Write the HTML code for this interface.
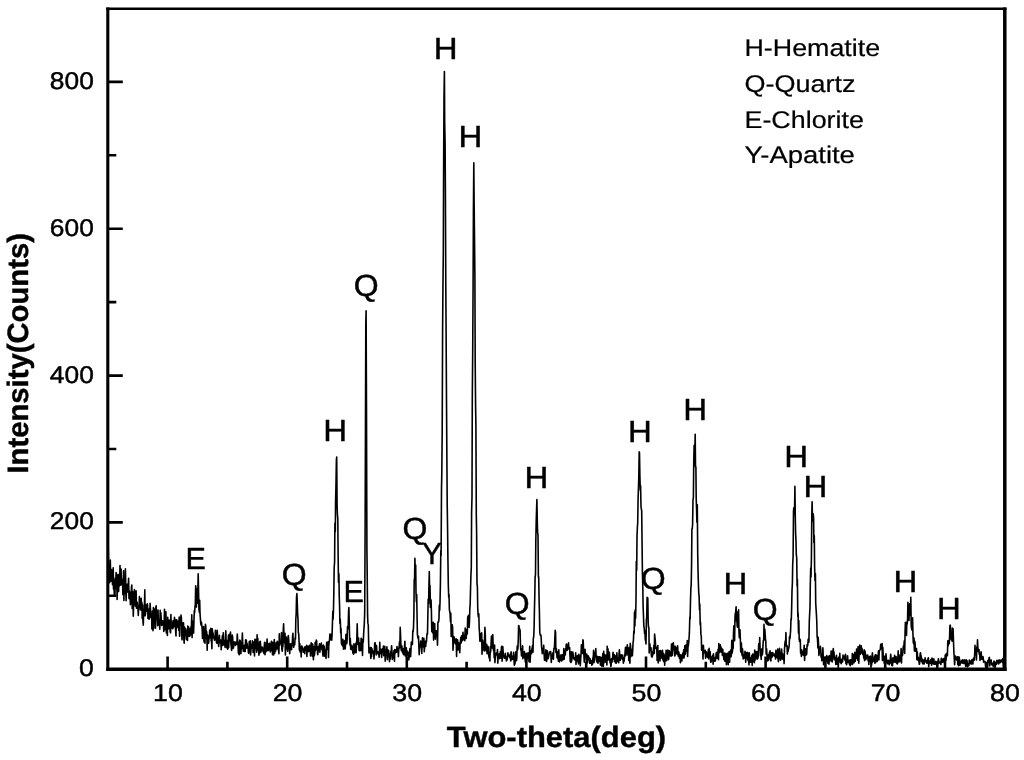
<!DOCTYPE html>
<html lang="en"><head><meta charset="utf-8"><title>XRD pattern</title>
<style>
html,body{margin:0;padding:0;background:#fff;}
body{width:1024px;height:760px;overflow:hidden;}
svg{display:block;}
text{font-family:"Liberation Sans",Arial,Helvetica,sans-serif;fill:#000;text-rendering:geometricPrecision;}
.tk{font-size:24.2px;stroke:#000;stroke-width:0.45px;}
.pk{font-size:30.4px;stroke:#000;stroke-width:0.45px;}
.lg{font-size:24.1px;stroke:#000;stroke-width:0.2px;}
.ti{font-size:29.3px;font-weight:bold;stroke:#000;stroke-width:0.4px;}
</style></head><body>
<svg width="1024" height="760" viewBox="0 0 1024 760">
<rect x="0" y="0" width="1024" height="760" fill="#fff"/>
<polyline fill="none" stroke="#000" stroke-width="1.6" stroke-linejoin="round" points="107.8,523.1 108.2,542.8 108.5,562.2 108.9,575.8 109.2,574.8 109.6,582.6 110.0,572.7 110.3,560.0 110.7,579.5 111.0,581.1 111.4,569.6 111.7,571.1 112.1,573.8 112.5,584.6 112.8,575.3 113.2,567.8 113.5,589.1 113.9,579.9 114.3,594.9 114.6,588.6 115.0,594.4 115.3,577.8 115.7,588.5 116.1,572.6 116.4,573.8 116.8,577.4 117.1,599.4 117.5,581.2 117.8,576.1 118.2,574.5 118.6,591.5 118.9,580.7 119.3,586.0 119.6,584.5 120.0,565.5 120.4,585.2 120.7,577.8 121.1,569.0 121.4,584.8 121.8,580.8 122.2,579.5 122.5,580.9 122.9,594.7 123.2,582.6 123.6,570.9 123.9,600.4 124.3,577.7 124.7,585.7 125.0,593.7 125.4,568.9 125.7,581.4 126.1,600.7 126.5,589.0 126.8,584.6 127.2,592.2 127.5,584.3 127.9,591.8 128.3,585.2 128.6,578.3 129.0,598.6 129.3,590.7 129.7,597.3 130.0,592.1 130.4,604.7 130.8,599.5 131.1,596.4 131.5,586.8 131.8,585.1 132.2,608.4 132.6,604.1 132.9,591.7 133.3,616.3 133.6,603.3 134.0,600.7 134.4,589.5 134.7,595.3 135.1,605.0 135.4,606.1 135.8,605.7 136.1,590.9 136.5,608.3 136.9,607.6 137.2,602.3 137.6,606.7 137.9,607.5 138.3,615.5 138.7,606.2 139.0,610.0 139.4,596.5 139.7,601.0 140.1,606.9 140.5,601.2 140.8,609.9 141.2,598.3 141.5,607.3 141.9,602.5 142.2,618.4 142.6,604.8 143.0,622.0 143.3,625.1 143.7,610.7 144.0,615.8 144.4,607.1 144.8,589.9 145.1,615.7 145.5,614.1 145.8,607.3 146.2,605.1 146.6,610.8 146.9,611.2 147.3,603.8 147.6,605.5 148.0,618.4 148.3,610.7 148.7,610.0 149.1,619.2 149.4,608.6 149.8,618.0 150.1,603.4 150.5,610.0 150.9,611.2 151.2,617.0 151.6,613.5 151.9,629.0 152.3,622.3 152.7,610.7 153.0,630.8 153.4,607.5 153.7,628.4 154.1,608.9 154.4,621.9 154.8,609.4 155.2,614.8 155.5,628.2 155.9,606.8 156.2,605.7 156.6,617.7 157.0,619.6 157.3,619.1 157.7,625.6 158.0,610.1 158.4,622.8 158.7,619.3 159.1,625.2 159.5,624.1 159.8,629.2 160.2,610.3 160.5,621.1 160.9,612.8 161.3,620.1 161.6,625.5 162.0,622.9 162.3,624.8 162.7,620.7 163.1,623.7 163.4,623.3 163.8,631.4 164.1,627.3 164.5,609.3 164.8,626.6 165.2,629.6 165.6,619.4 165.9,611.7 166.3,632.9 166.6,623.9 167.0,627.1 167.4,635.5 167.7,617.4 168.1,623.1 168.4,622.6 168.8,628.7 169.2,620.1 169.5,627.5 169.9,624.8 170.2,631.9 170.6,632.8 170.9,614.6 171.3,628.0 171.7,622.4 172.0,624.9 172.4,627.9 172.7,628.6 173.1,620.6 173.5,627.4 173.8,626.5 174.2,625.4 174.5,617.4 174.9,621.1 175.3,623.3 175.6,630.1 176.0,636.0 176.3,619.8 176.7,619.9 177.0,627.7 177.4,623.1 177.8,621.6 178.1,621.4 178.5,620.9 178.8,630.5 179.2,617.0 179.6,636.2 179.9,621.7 180.3,624.4 180.6,621.9 181.0,615.1 181.4,617.9 181.7,636.0 182.1,639.8 182.4,622.8 182.8,635.4 183.1,628.6 183.5,622.9 183.9,639.9 184.2,643.2 184.6,627.1 184.9,628.7 185.3,630.7 185.7,628.9 186.0,635.0 186.4,639.5 186.7,630.5 187.1,636.0 187.5,640.5 187.8,626.1 188.2,629.9 188.5,626.8 188.9,636.2 189.2,634.0 189.6,636.3 190.0,635.5 190.3,628.1 190.7,634.6 191.0,626.8 191.4,626.6 191.8,614.7 192.1,637.6 192.5,621.1 192.8,626.7 193.2,624.7 193.6,633.1 193.9,623.3 194.3,610.6 194.6,612.9 195.0,606.7 195.3,604.6 195.7,585.7 196.1,590.8 196.4,607.1 196.8,588.7 197.1,599.7 197.5,603.3 197.9,587.8 198.2,573.8 198.6,591.7 198.9,608.7 199.3,612.2 199.7,600.3 200.0,613.4 200.4,618.6 200.7,622.9 201.1,625.1 201.4,622.1 201.8,625.6 202.2,629.2 202.5,638.5 202.9,629.1 203.2,637.5 203.6,626.5 204.0,642.0 204.3,635.2 204.7,634.7 205.0,643.2 205.4,624.4 205.8,626.3 206.1,638.5 206.5,631.0 206.8,633.6 207.2,650.3 207.5,634.8 207.9,636.8 208.3,636.1 208.6,643.3 209.0,638.5 209.3,638.1 209.7,630.0 210.1,635.3 210.4,637.5 210.8,628.4 211.1,641.0 211.5,640.2 211.9,648.8 212.2,628.7 212.6,632.4 212.9,632.8 213.3,634.4 213.6,637.9 214.0,637.4 214.4,640.2 214.7,640.1 215.1,638.6 215.4,630.2 215.8,635.9 216.2,639.6 216.5,642.8 216.9,643.2 217.2,630.3 217.6,636.8 218.0,639.4 218.3,641.9 218.7,646.4 219.0,640.5 219.4,635.2 219.7,642.6 220.1,641.7 220.5,641.8 220.8,640.0 221.2,649.8 221.5,642.2 221.9,645.8 222.3,636.0 222.6,645.5 223.0,638.0 223.3,632.7 223.7,643.2 224.1,644.9 224.4,640.6 224.8,641.7 225.1,647.4 225.5,639.3 225.8,630.7 226.2,643.5 226.6,643.2 226.9,648.0 227.3,640.5 227.6,649.2 228.0,648.5 228.4,635.3 228.7,647.5 229.1,636.6 229.4,634.2 229.8,641.3 230.2,639.7 230.5,632.1 230.9,644.0 231.2,646.2 231.6,650.4 231.9,642.9 232.3,635.1 232.7,638.0 233.0,648.4 233.4,648.0 233.7,646.2 234.1,641.9 234.5,644.7 234.8,642.5 235.2,642.1 235.5,645.4 235.9,644.0 236.3,642.8 236.6,644.4 237.0,641.3 237.3,634.0 237.7,641.0 238.0,643.9 238.4,653.3 238.8,642.3 239.1,654.8 239.5,652.0 239.8,640.0 240.2,640.9 240.6,645.5 240.9,653.8 241.3,646.8 241.6,648.5 242.0,641.6 242.4,633.1 242.7,643.9 243.1,649.2 243.4,651.3 243.8,645.6 244.1,646.2 244.5,651.4 244.9,644.8 245.2,651.5 245.6,639.7 245.9,640.0 246.3,640.0 246.7,648.1 247.0,643.0 247.4,646.4 247.7,647.8 248.1,647.5 248.4,652.5 248.8,653.3 249.2,641.7 249.5,646.9 249.9,644.8 250.2,640.8 250.6,654.9 251.0,650.0 251.3,645.1 251.7,644.0 252.0,648.0 252.4,640.8 252.8,645.1 253.1,652.4 253.5,651.0 253.8,642.1 254.2,643.9 254.5,656.0 254.9,639.4 255.3,643.3 255.6,639.5 256.0,648.4 256.3,647.9 256.7,652.2 257.1,634.7 257.4,647.4 257.8,638.4 258.1,649.9 258.5,645.7 258.9,655.1 259.2,648.6 259.6,641.7 259.9,653.0 260.3,641.3 260.6,645.0 261.0,652.0 261.4,649.3 261.7,649.1 262.1,647.1 262.4,649.5 262.8,651.0 263.2,648.4 263.5,652.0 263.9,653.4 264.2,647.1 264.6,642.4 265.0,654.6 265.3,646.8 265.7,650.1 266.0,651.7 266.4,642.4 266.7,649.3 267.1,639.1 267.5,650.6 267.8,644.7 268.2,647.7 268.5,650.4 268.9,643.5 269.3,647.2 269.6,643.3 270.0,646.6 270.3,651.9 270.7,646.8 271.1,645.9 271.4,641.2 271.8,650.7 272.1,646.1 272.5,654.8 272.8,642.4 273.2,651.3 273.6,655.0 273.9,645.8 274.3,639.6 274.6,653.3 275.0,650.9 275.4,649.0 275.7,650.9 276.1,642.9 276.4,649.0 276.8,648.5 277.2,641.4 277.5,648.4 277.9,642.0 278.2,649.4 278.6,650.6 278.9,653.8 279.3,633.8 279.7,645.4 280.0,642.3 280.4,643.6 280.7,642.5 281.1,642.9 281.5,632.6 281.8,648.6 282.2,651.1 282.5,647.2 282.9,646.7 283.3,629.4 283.6,623.7 284.0,635.6 284.3,642.6 284.7,640.6 285.0,633.3 285.4,655.0 285.8,639.6 286.1,648.6 286.5,637.1 286.8,648.8 287.2,644.5 287.6,651.3 287.9,648.5 288.3,635.6 288.6,638.8 289.0,645.5 289.4,648.1 289.7,653.8 290.1,645.7 290.4,643.8 290.8,644.1 291.1,644.2 291.5,649.8 291.9,644.1 292.2,643.9 292.6,636.7 292.9,633.4 293.3,644.1 293.7,647.3 294.0,643.0 294.4,645.3 294.7,644.6 295.1,637.8 295.5,639.0 295.8,619.5 296.2,613.2 296.5,597.7 296.9,593.6 297.2,600.8 297.6,612.9 298.0,619.4 298.3,632.0 298.7,634.2 299.0,640.1 299.4,650.1 299.8,643.6 300.1,651.9 300.5,648.6 300.8,647.4 301.2,656.9 301.6,646.0 301.9,646.0 302.3,647.7 302.6,649.3 303.0,649.1 303.3,652.3 303.7,648.9 304.1,650.4 304.4,647.3 304.8,653.8 305.1,646.7 305.5,647.3 305.9,648.7 306.2,650.2 306.6,645.4 306.9,656.4 307.3,646.0 307.7,647.1 308.0,646.9 308.4,646.5 308.7,651.6 309.1,649.7 309.4,645.3 309.8,646.4 310.2,647.5 310.5,655.9 310.9,645.9 311.2,642.8 311.6,643.6 312.0,647.4 312.3,656.2 312.7,644.0 313.0,649.3 313.4,659.8 313.8,646.8 314.1,655.9 314.5,654.9 314.8,651.7 315.2,642.4 315.5,650.4 315.9,647.3 316.3,640.1 316.6,640.9 317.0,649.1 317.3,649.8 317.7,654.7 318.1,652.0 318.4,646.5 318.8,646.6 319.1,648.0 319.5,643.7 319.9,652.2 320.2,648.7 320.6,644.8 320.9,645.5 321.3,643.1 321.6,646.3 322.0,649.8 322.4,646.4 322.7,653.1 323.1,656.1 323.4,645.1 323.8,648.2 324.2,646.3 324.5,656.1 324.9,649.4 325.2,650.4 325.6,651.6 326.0,658.5 326.3,648.7 326.7,642.2 327.0,644.6 327.4,649.4 327.7,646.1 328.1,641.8 328.5,657.4 328.8,645.6 329.2,641.5 329.5,640.2 329.9,634.0 330.3,636.2 330.6,639.8 331.0,638.6 331.3,634.2 331.7,640.2 332.1,634.4 332.4,624.4 332.8,611.3 333.1,619.3 333.5,608.9 333.8,594.3 334.2,567.0 334.6,562.3 334.9,523.2 335.3,531.6 335.6,500.4 336.0,483.7 336.4,459.8 336.7,457.0 337.1,505.7 337.4,514.4 337.8,518.9 338.1,553.2 338.5,582.5 338.9,573.7 339.2,594.5 339.6,606.8 339.9,623.5 340.3,619.4 340.7,633.1 341.0,628.2 341.4,643.1 341.7,644.5 342.1,639.8 342.5,646.0 342.8,639.2 343.2,642.2 343.5,649.2 343.9,644.4 344.2,647.0 344.6,640.7 345.0,649.0 345.3,648.1 345.7,639.6 346.0,634.2 346.4,634.8 346.8,643.6 347.1,639.9 347.5,626.5 347.8,629.0 348.2,626.2 348.6,610.5 348.9,607.5 349.3,624.7 349.6,639.3 350.0,645.1 350.3,638.3 350.7,649.2 351.1,647.6 351.4,646.7 351.8,645.3 352.1,650.2 352.5,646.4 352.9,653.3 353.2,650.9 353.6,654.1 353.9,643.9 354.3,649.4 354.7,652.8 355.0,650.7 355.4,649.5 355.7,643.4 356.1,652.8 356.4,646.6 356.8,640.0 357.2,623.7 357.5,634.8 357.9,644.5 358.2,643.0 358.6,638.0 359.0,649.9 359.3,650.7 359.7,643.0 360.0,646.3 360.4,645.2 360.8,650.7 361.1,638.3 361.5,638.7 361.8,643.8 362.2,642.2 362.5,655.4 362.9,639.5 363.3,641.9 363.6,634.9 364.0,627.8 364.3,624.2 364.7,611.9 365.1,533.8 365.4,446.4 365.8,323.5 366.1,310.9 366.5,410.1 366.9,547.7 367.2,574.6 367.6,615.9 367.9,623.4 368.3,624.9 368.6,640.5 369.0,653.0 369.4,649.6 369.7,652.4 370.1,649.8 370.4,647.6 370.8,658.4 371.2,647.5 371.5,656.7 371.9,648.5 372.2,650.7 372.6,651.9 373.0,651.0 373.3,653.4 373.7,653.9 374.0,658.9 374.4,651.5 374.7,643.1 375.1,642.7 375.5,645.7 375.8,648.6 376.2,654.9 376.5,645.5 376.9,652.2 377.3,652.4 377.6,653.4 378.0,651.8 378.3,654.2 378.7,652.7 379.1,657.1 379.4,654.0 379.8,642.4 380.1,652.8 380.5,653.5 380.8,650.2 381.2,649.5 381.6,657.5 381.9,653.5 382.3,648.7 382.6,651.5 383.0,652.2 383.4,646.0 383.7,655.7 384.1,652.4 384.4,655.0 384.8,646.3 385.2,661.3 385.5,655.7 385.9,655.1 386.2,649.9 386.6,650.2 386.9,646.8 387.3,659.6 387.7,649.6 388.0,654.1 388.4,655.7 388.7,650.5 389.1,656.8 389.5,661.8 389.8,654.4 390.2,659.3 390.5,655.6 390.9,651.2 391.3,651.4 391.6,645.9 392.0,653.6 392.3,659.4 392.7,656.0 393.0,656.7 393.4,658.0 393.8,650.8 394.1,655.4 394.5,661.2 394.8,649.5 395.2,653.0 395.6,650.9 395.9,651.9 396.3,649.5 396.6,652.1 397.0,646.6 397.4,650.0 397.7,649.8 398.1,649.1 398.4,656.8 398.8,649.1 399.1,647.2 399.5,641.8 399.9,647.6 400.2,627.4 400.6,636.0 400.9,645.4 401.3,650.7 401.7,645.6 402.0,647.3 402.4,652.3 402.7,649.6 403.1,653.8 403.5,648.7 403.8,654.7 404.2,651.7 404.5,647.1 404.9,641.2 405.2,656.1 405.6,653.6 406.0,655.2 406.3,647.8 406.7,656.5 407.0,653.4 407.4,651.2 407.8,655.4 408.1,655.1 408.5,652.7 408.8,660.0 409.2,656.7 409.6,651.5 409.9,648.5 410.3,649.6 410.6,656.8 411.0,649.6 411.3,642.1 411.7,641.8 412.1,643.0 412.4,644.5 412.8,630.7 413.1,631.9 413.5,627.7 413.9,613.9 414.2,580.3 414.6,578.2 414.9,558.3 415.3,573.6 415.7,565.1 416.0,592.7 416.4,601.8 416.7,594.5 417.1,617.7 417.4,634.3 417.8,637.1 418.2,638.5 418.5,636.2 418.9,647.1 419.2,654.7 419.6,647.8 420.0,646.9 420.3,646.8 420.7,641.1 421.0,646.3 421.4,644.0 421.8,653.5 422.1,643.9 422.5,637.8 422.8,644.2 423.2,646.6 423.5,646.9 423.9,638.4 424.3,651.7 424.6,647.1 425.0,643.6 425.3,641.3 425.7,646.5 426.1,641.0 426.4,642.1 426.8,636.5 427.1,633.4 427.5,634.0 427.8,617.4 428.2,599.1 428.6,603.8 428.9,586.8 429.3,571.6 429.6,590.3 430.0,585.3 430.4,607.5 430.7,599.4 431.1,600.5 431.4,610.9 431.8,631.4 432.2,627.7 432.5,632.7 432.9,632.5 433.2,622.2 433.6,640.1 433.9,624.2 434.3,631.9 434.7,623.6 435.0,632.7 435.4,639.1 435.7,633.7 436.1,630.9 436.5,634.8 436.8,631.0 437.2,636.1 437.5,645.1 437.9,622.8 438.3,621.4 438.6,622.0 439.0,618.4 439.3,605.2 439.7,610.1 440.0,602.7 440.4,584.4 440.8,550.7 441.1,555.6 441.5,489.3 441.8,473.8 442.2,432.2 442.6,330.7 442.9,292.1 443.3,253.8 443.6,173.4 444.0,97.4 444.4,71.6 444.7,124.1 445.1,141.8 445.4,191.9 445.8,287.0 446.1,331.7 446.5,399.7 446.9,460.5 447.2,502.9 447.6,530.2 447.9,557.8 448.3,584.2 448.7,597.3 449.0,594.5 449.4,610.3 449.7,611.1 450.1,613.6 450.5,621.7 450.8,613.2 451.2,636.5 451.5,627.8 451.9,636.7 452.2,624.7 452.6,627.2 453.0,650.2 453.3,645.2 453.7,636.6 454.0,636.7 454.4,637.7 454.8,642.9 455.1,640.5 455.5,639.9 455.8,644.3 456.2,638.7 456.6,656.5 456.9,641.3 457.3,650.3 457.6,639.9 458.0,646.2 458.3,649.7 458.7,642.9 459.1,649.6 459.4,649.4 459.8,652.6 460.1,644.0 460.5,640.7 460.9,637.2 461.2,643.0 461.6,635.7 461.9,640.8 462.3,640.7 462.7,636.0 463.0,632.3 463.4,639.8 463.7,638.5 464.1,637.3 464.4,635.1 464.8,640.7 465.2,628.0 465.5,636.5 465.9,630.6 466.2,638.4 466.6,630.2 467.0,629.4 467.3,634.0 467.7,616.8 468.0,626.6 468.4,615.3 468.8,618.6 469.1,627.4 469.5,621.4 469.8,609.2 470.2,603.6 470.5,590.9 470.9,575.7 471.3,567.6 471.6,512.8 472.0,496.5 472.3,397.7 472.7,351.9 473.1,284.3 473.4,213.1 473.8,162.7 474.1,199.1 474.5,236.7 474.9,276.3 475.2,362.0 475.6,406.4 475.9,424.7 476.3,515.1 476.6,531.8 477.0,583.6 477.4,586.9 477.7,607.0 478.1,614.6 478.4,616.9 478.8,613.8 479.2,628.6 479.5,632.0 479.9,641.2 480.2,633.6 480.6,640.3 481.0,635.4 481.3,641.7 481.7,632.9 482.0,654.2 482.4,645.9 482.7,640.3 483.1,647.2 483.5,649.6 483.8,646.3 484.2,651.0 484.5,641.0 484.9,627.4 485.3,634.9 485.6,649.7 486.0,650.7 486.3,650.0 486.7,644.3 487.1,653.6 487.4,653.3 487.8,646.2 488.1,646.5 488.5,652.4 488.8,655.9 489.2,658.0 489.6,654.1 489.9,661.0 490.3,646.7 490.6,652.3 491.0,645.5 491.4,636.2 491.7,637.2 492.1,648.0 492.4,635.6 492.8,634.7 493.2,647.3 493.5,650.8 493.9,648.8 494.2,657.7 494.6,645.0 494.9,662.6 495.3,657.8 495.7,654.5 496.0,654.6 496.4,653.1 496.7,652.8 497.1,655.0 497.5,649.5 497.8,663.2 498.2,654.5 498.5,657.5 498.9,654.1 499.3,653.9 499.6,658.6 500.0,657.6 500.3,651.9 500.7,653.8 501.0,658.0 501.4,647.2 501.8,646.3 502.1,661.3 502.5,654.4 502.8,646.6 503.2,652.7 503.6,655.0 503.9,656.7 504.3,658.1 504.6,656.9 505.0,658.3 505.4,653.3 505.7,657.8 506.1,658.0 506.4,661.0 506.8,656.7 507.1,659.9 507.5,657.3 507.9,652.7 508.2,655.3 508.6,654.8 508.9,655.4 509.3,656.5 509.7,657.2 510.0,657.9 510.4,653.9 510.7,660.9 511.1,651.7 511.5,656.6 511.8,659.6 512.2,658.6 512.5,659.2 512.9,656.0 513.2,659.3 513.6,652.2 514.0,659.5 514.3,665.1 514.7,659.2 515.0,664.0 515.4,656.3 515.8,651.9 516.1,653.2 516.5,660.7 516.8,657.8 517.2,646.0 517.5,650.1 517.9,648.5 518.3,638.6 518.6,625.6 519.0,625.9 519.3,630.0 519.7,628.8 520.1,630.7 520.4,643.3 520.8,650.3 521.1,648.5 521.5,655.9 521.9,653.7 522.2,654.1 522.6,645.7 522.9,658.7 523.3,656.0 523.6,656.2 524.0,653.9 524.4,651.5 524.7,657.6 525.1,658.9 525.4,662.1 525.8,659.2 526.2,653.3 526.5,655.1 526.9,659.3 527.2,656.6 527.6,654.8 528.0,652.7 528.3,656.9 528.7,655.3 529.0,661.6 529.4,658.5 529.7,646.3 530.1,662.3 530.5,653.8 530.8,650.7 531.2,652.6 531.5,653.8 531.9,649.0 532.3,647.1 532.6,645.3 533.0,652.3 533.3,638.3 533.7,637.1 534.1,627.5 534.4,611.6 534.8,595.1 535.1,577.1 535.5,574.6 535.8,541.2 536.2,521.4 536.6,508.9 536.9,499.6 537.3,522.2 537.6,532.3 538.0,535.1 538.4,577.2 538.7,577.0 539.1,599.8 539.4,611.6 539.8,632.9 540.2,634.7 540.5,635.4 540.9,635.1 541.2,638.5 541.6,646.9 541.9,649.3 542.3,653.7 542.7,649.0 543.0,652.8 543.4,649.7 543.7,645.4 544.1,653.6 544.5,660.1 544.8,657.8 545.2,660.5 545.5,659.7 545.9,649.8 546.3,654.4 546.6,661.5 547.0,653.1 547.3,650.9 547.7,657.4 548.0,658.7 548.4,657.5 548.8,655.3 549.1,654.0 549.5,652.0 549.8,652.0 550.2,652.1 550.6,651.5 550.9,654.2 551.3,662.5 551.6,657.2 552.0,655.5 552.4,658.1 552.7,653.0 553.1,657.6 553.4,659.3 553.8,648.5 554.1,649.0 554.5,646.7 554.9,636.9 555.2,630.3 555.6,633.2 555.9,652.6 556.3,648.5 556.7,652.3 557.0,657.7 557.4,654.7 557.7,651.8 558.1,658.6 558.5,661.3 558.8,649.7 559.2,659.0 559.5,662.0 559.9,656.6 560.2,656.0 560.6,660.2 561.0,654.7 561.3,659.4 561.7,661.0 562.0,657.0 562.4,654.8 562.8,659.9 563.1,656.3 563.5,657.6 563.8,648.5 564.2,659.3 564.6,650.7 564.9,655.5 565.3,654.7 565.6,649.8 566.0,647.4 566.3,644.0 566.7,647.0 567.1,650.5 567.4,649.8 567.8,644.7 568.1,645.3 568.5,642.8 568.9,649.0 569.2,647.8 569.6,647.5 569.9,654.4 570.3,661.8 570.7,661.2 571.0,662.5 571.4,651.8 571.7,660.9 572.1,653.6 572.4,656.0 572.8,652.1 573.2,654.7 573.5,658.6 573.9,659.0 574.2,658.0 574.6,657.7 575.0,660.2 575.3,658.5 575.7,652.7 576.0,664.4 576.4,657.5 576.8,661.6 577.1,657.8 577.5,655.5 577.8,658.6 578.2,655.7 578.5,664.0 578.9,654.4 579.3,660.3 579.6,655.8 580.0,657.0 580.3,665.6 580.7,658.7 581.1,653.1 581.4,644.8 581.8,647.8 582.1,645.8 582.5,653.5 582.9,639.8 583.2,640.5 583.6,651.5 583.9,654.9 584.3,662.2 584.6,653.7 585.0,649.4 585.4,655.6 585.7,653.9 586.1,656.6 586.4,662.0 586.8,654.0 587.2,663.0 587.5,659.4 587.9,657.8 588.2,655.7 588.6,657.3 589.0,657.5 589.3,661.4 589.7,663.3 590.0,658.6 590.4,661.3 590.7,663.3 591.1,663.2 591.5,660.5 591.8,665.2 592.2,663.4 592.5,664.3 592.9,657.8 593.3,656.7 593.6,650.4 594.0,662.8 594.3,659.2 594.7,652.5 595.1,656.4 595.4,656.7 595.8,648.6 596.1,657.1 596.5,660.8 596.8,661.9 597.2,656.3 597.6,656.9 597.9,663.2 598.3,662.0 598.6,656.9 599.0,656.9 599.4,661.1 599.7,656.8 600.1,657.0 600.4,665.1 600.8,660.1 601.2,657.6 601.5,661.0 601.9,666.3 602.2,660.0 602.6,656.5 602.9,653.6 603.3,666.5 603.7,651.2 604.0,662.9 604.4,655.7 604.7,654.6 605.1,655.4 605.5,658.0 605.8,662.2 606.2,655.2 606.5,659.5 606.9,665.0 607.2,646.4 607.6,652.6 608.0,648.7 608.3,660.0 608.7,651.8 609.0,652.1 609.4,652.9 609.8,658.7 610.1,662.9 610.5,659.5 610.8,666.5 611.2,664.8 611.6,658.6 611.9,662.3 612.3,659.4 612.6,659.2 613.0,652.2 613.3,654.3 613.7,658.9 614.1,654.5 614.4,661.4 614.8,659.8 615.1,655.5 615.5,662.9 615.9,659.5 616.2,663.1 616.6,658.1 616.9,652.7 617.3,661.0 617.7,657.5 618.0,661.5 618.4,662.3 618.7,662.6 619.1,652.9 619.4,649.8 619.8,656.3 620.2,660.5 620.5,655.3 620.9,659.0 621.2,654.8 621.6,656.5 622.0,656.4 622.3,655.1 622.7,659.3 623.0,658.5 623.4,663.2 623.8,657.9 624.1,661.1 624.5,654.8 624.8,656.9 625.2,650.5 625.5,647.2 625.9,655.3 626.3,652.5 626.6,654.0 627.0,647.5 627.3,644.8 627.7,649.7 628.1,655.4 628.4,648.2 628.8,660.5 629.1,647.9 629.5,656.6 629.9,663.3 630.2,643.3 630.6,645.8 630.9,656.7 631.3,650.7 631.6,651.7 632.0,649.2 632.4,655.6 632.7,650.2 633.1,642.1 633.4,640.6 633.8,631.1 634.2,633.2 634.5,612.1 634.9,626.0 635.2,609.8 635.6,618.3 636.0,601.1 636.3,561.3 636.7,570.3 637.0,536.7 637.4,526.8 637.7,523.2 638.1,498.1 638.5,487.0 638.8,476.6 639.2,451.9 639.5,452.9 639.9,476.3 640.3,490.3 640.6,485.8 641.0,506.6 641.3,508.7 641.7,511.0 642.1,546.2 642.4,571.8 642.8,587.3 643.1,605.9 643.5,616.4 643.8,625.6 644.2,628.0 644.6,633.8 644.9,630.6 645.3,640.3 645.6,639.8 646.0,643.9 646.4,619.6 646.7,617.7 647.1,597.3 647.4,599.9 647.8,598.0 648.2,622.3 648.5,627.2 648.9,627.9 649.2,653.0 649.6,644.4 649.9,643.9 650.3,650.5 650.7,649.6 651.0,647.7 651.4,656.3 651.7,651.7 652.1,657.1 652.5,655.8 652.8,654.8 653.2,651.6 653.5,648.7 653.9,645.4 654.3,653.5 654.6,634.0 655.0,637.9 655.3,640.8 655.7,648.0 656.0,648.4 656.4,647.2 656.8,649.7 657.1,660.5 657.5,651.0 657.8,645.6 658.2,662.9 658.6,651.7 658.9,654.4 659.3,656.5 659.6,650.7 660.0,660.9 660.4,655.6 660.7,650.5 661.1,657.1 661.4,658.0 661.8,655.9 662.1,658.2 662.5,650.3 662.9,660.0 663.2,653.0 663.6,661.4 663.9,653.8 664.3,656.9 664.7,665.2 665.0,656.5 665.4,660.6 665.7,658.2 666.1,650.3 666.5,660.8 666.8,660.5 667.2,650.6 667.5,655.8 667.9,650.1 668.2,654.9 668.6,659.6 669.0,656.3 669.3,650.9 669.7,651.9 670.0,655.4 670.4,654.8 670.8,654.9 671.1,656.2 671.5,644.0 671.8,651.4 672.2,655.5 672.6,651.0 672.9,643.5 673.3,642.8 673.6,646.3 674.0,649.2 674.3,646.2 674.7,656.0 675.1,655.3 675.4,646.3 675.8,653.6 676.1,650.8 676.5,648.0 676.9,651.1 677.2,654.3 677.6,645.7 677.9,652.0 678.3,656.3 678.7,651.8 679.0,653.1 679.4,658.3 679.7,654.4 680.1,655.3 680.4,662.8 680.8,655.1 681.2,655.4 681.5,655.9 681.9,661.0 682.2,655.2 682.6,653.6 683.0,652.8 683.3,658.0 683.7,649.9 684.0,657.9 684.4,653.1 684.8,645.7 685.1,654.5 685.5,653.2 685.8,645.0 686.2,651.3 686.5,650.1 686.9,646.4 687.3,640.6 687.6,656.5 688.0,647.0 688.3,645.6 688.7,643.0 689.1,637.5 689.4,632.4 689.8,617.3 690.1,619.0 690.5,601.0 690.9,587.0 691.2,585.9 691.6,562.6 691.9,529.0 692.3,528.3 692.6,524.3 693.0,500.1 693.4,497.3 693.7,465.8 694.1,445.5 694.4,465.5 694.8,453.3 695.2,434.3 695.5,467.0 695.9,466.8 696.2,498.6 696.6,510.5 696.9,522.3 697.3,504.8 697.7,553.2 698.0,569.7 698.4,583.8 698.7,592.3 699.1,596.1 699.5,610.0 699.8,604.0 700.2,624.8 700.5,622.2 700.9,634.4 701.3,636.0 701.6,650.3 702.0,645.2 702.3,646.5 702.7,648.8 703.0,659.1 703.4,645.3 703.8,652.0 704.1,652.8 704.5,652.5 704.8,652.8 705.2,650.4 705.6,658.1 705.9,656.9 706.3,651.9 706.6,652.7 707.0,655.2 707.4,656.2 707.7,657.5 708.1,654.4 708.4,649.5 708.8,658.9 709.1,648.4 709.5,651.4 709.9,656.7 710.2,651.9 710.6,661.0 710.9,662.2 711.3,660.5 711.7,657.0 712.0,656.7 712.4,657.6 712.7,655.2 713.1,664.1 713.5,653.7 713.8,661.3 714.2,658.3 714.5,657.4 714.9,660.3 715.2,661.1 715.6,659.5 716.0,655.4 716.3,652.7 716.7,652.3 717.0,658.2 717.4,656.6 717.8,656.4 718.1,649.3 718.5,659.8 718.8,643.5 719.2,651.2 719.6,652.5 719.9,647.4 720.3,644.8 720.6,649.1 721.0,647.0 721.3,652.1 721.7,648.4 722.1,649.2 722.4,655.4 722.8,649.6 723.1,655.0 723.5,655.5 723.9,659.6 724.2,657.2 724.6,653.0 724.9,661.2 725.3,653.5 725.7,654.7 726.0,654.9 726.4,664.6 726.7,656.3 727.1,653.3 727.4,658.8 727.8,655.3 728.2,664.7 728.5,652.8 728.9,657.9 729.2,651.6 729.6,662.3 730.0,651.6 730.3,655.0 730.7,650.0 731.0,656.8 731.4,654.6 731.8,640.3 732.1,653.1 732.5,650.9 732.8,646.7 733.2,648.3 733.5,632.8 733.9,625.9 734.3,637.4 734.6,640.8 735.0,617.0 735.3,613.5 735.7,612.2 736.1,606.8 736.4,621.1 736.8,615.0 737.1,625.4 737.5,627.3 737.9,611.5 738.2,627.2 738.6,609.9 738.9,629.2 739.3,637.6 739.6,632.2 740.0,629.9 740.4,640.5 740.7,652.0 741.1,645.9 741.4,643.0 741.8,653.2 742.2,655.6 742.5,648.7 742.9,653.2 743.2,658.9 743.6,656.3 744.0,658.1 744.3,654.2 744.7,655.1 745.0,651.2 745.4,653.1 745.7,662.1 746.1,654.6 746.5,652.8 746.8,654.6 747.2,652.4 747.5,658.6 747.9,660.1 748.3,653.0 748.6,660.7 749.0,664.9 749.3,652.8 749.7,659.5 750.1,657.9 750.4,662.1 750.8,661.8 751.1,661.2 751.5,658.2 751.8,655.5 752.2,665.5 752.6,654.1 752.9,661.4 753.3,660.9 753.6,654.4 754.0,657.2 754.4,662.7 754.7,650.0 755.1,660.1 755.4,655.9 755.8,656.1 756.2,651.5 756.5,658.5 756.9,652.8 757.2,659.3 757.6,651.8 757.9,658.5 758.3,655.7 758.7,643.8 759.0,648.4 759.4,647.8 759.7,637.6 760.1,648.6 760.5,656.0 760.8,650.8 761.2,659.5 761.5,650.0 761.9,648.9 762.3,655.0 762.6,652.9 763.0,645.1 763.3,640.5 763.7,640.4 764.0,624.4 764.4,639.5 764.8,629.1 765.1,633.6 765.5,638.9 765.8,641.7 766.2,654.2 766.6,648.8 766.9,654.3 767.3,657.4 767.6,660.9 768.0,660.5 768.4,654.7 768.7,660.0 769.1,656.2 769.4,652.5 769.8,652.7 770.1,650.8 770.5,657.9 770.9,660.9 771.2,653.0 771.6,655.7 771.9,652.7 772.3,656.9 772.7,652.5 773.0,653.8 773.4,654.3 773.7,655.1 774.1,655.5 774.5,656.1 774.8,656.1 775.2,653.3 775.5,658.9 775.9,650.4 776.2,657.3 776.6,653.2 777.0,657.2 777.3,657.8 777.7,649.1 778.0,657.9 778.4,661.6 778.8,659.4 779.1,657.8 779.5,648.4 779.8,655.7 780.2,652.9 780.6,660.2 780.9,654.9 781.3,653.6 781.6,649.1 782.0,658.7 782.3,653.4 782.7,654.4 783.1,659.5 783.4,655.2 783.8,655.8 784.1,663.6 784.5,649.0 784.9,643.4 785.2,641.1 785.6,643.8 785.9,632.5 786.3,646.3 786.6,646.3 787.0,645.5 787.4,653.9 787.7,647.3 788.1,651.3 788.4,649.4 788.8,648.0 789.2,645.6 789.5,636.7 789.9,638.6 790.2,635.7 790.6,630.7 791.0,619.0 791.3,619.8 791.7,606.6 792.0,590.7 792.4,582.8 792.7,564.4 793.1,556.2 793.5,511.1 793.8,507.7 794.2,511.1 794.5,514.5 794.9,486.4 795.3,517.7 795.6,533.1 796.0,540.9 796.3,554.9 796.7,557.5 797.1,586.0 797.4,579.2 797.8,616.4 798.1,613.1 798.5,633.2 798.8,620.6 799.2,639.4 799.6,641.5 799.9,639.1 800.3,639.8 800.6,653.3 801.0,650.7 801.4,656.4 801.7,649.9 802.1,651.5 802.4,653.0 802.8,654.7 803.2,653.5 803.5,655.2 803.9,649.6 804.2,645.2 804.6,660.5 804.9,652.2 805.3,653.3 805.7,648.9 806.0,655.1 806.4,650.7 806.7,654.2 807.1,644.6 807.5,646.0 807.8,645.2 808.2,639.3 808.5,638.9 808.9,642.3 809.3,621.2 809.6,614.6 810.0,607.8 810.3,585.1 810.7,568.0 811.0,577.0 811.4,558.5 811.8,514.7 812.1,501.8 812.5,520.1 812.8,521.0 813.2,513.9 813.6,518.0 813.9,542.7 814.3,535.7 814.6,566.5 815.0,580.6 815.4,573.6 815.7,602.8 816.1,609.4 816.4,614.3 816.8,621.8 817.1,636.3 817.5,639.1 817.9,647.9 818.2,637.4 818.6,645.4 818.9,655.4 819.3,651.5 819.7,649.4 820.0,651.3 820.4,646.3 820.7,648.9 821.1,657.1 821.5,655.7 821.8,660.8 822.2,655.1 822.5,655.7 822.9,647.8 823.2,656.4 823.6,664.8 824.0,659.7 824.3,657.0 824.7,662.2 825.0,660.9 825.4,659.2 825.8,656.8 826.1,658.7 826.5,661.4 826.8,655.5 827.2,660.3 827.6,660.2 827.9,663.3 828.3,661.3 828.6,656.2 829.0,664.1 829.3,658.5 829.7,655.5 830.1,659.1 830.4,656.4 830.8,661.0 831.1,651.1 831.5,651.2 831.9,654.1 832.2,661.9 832.6,659.0 832.9,651.0 833.3,648.6 833.7,654.9 834.0,652.1 834.4,659.7 834.7,658.8 835.1,658.6 835.4,657.5 835.8,664.4 836.2,656.4 836.5,655.3 836.9,663.6 837.2,664.3 837.6,658.8 838.0,662.1 838.3,667.5 838.7,657.4 839.0,659.6 839.4,661.6 839.8,653.3 840.1,659.7 840.5,662.6 840.8,659.9 841.2,663.6 841.5,662.7 841.9,659.0 842.3,662.0 842.6,661.7 843.0,655.0 843.3,657.6 843.7,657.7 844.1,658.6 844.4,658.8 844.8,655.7 845.1,660.4 845.5,654.4 845.9,663.4 846.2,661.2 846.6,664.7 846.9,661.5 847.3,658.7 847.6,655.7 848.0,662.5 848.4,660.3 848.7,661.5 849.1,662.7 849.4,664.1 849.8,660.0 850.2,665.8 850.5,659.8 850.9,660.0 851.2,662.1 851.6,663.2 852.0,664.4 852.3,653.5 852.7,664.0 853.0,654.2 853.4,657.2 853.7,660.3 854.1,662.8 854.5,654.9 854.8,652.2 855.2,661.3 855.5,658.8 855.9,653.4 856.3,655.7 856.6,649.0 857.0,658.4 857.3,653.6 857.7,660.3 858.1,646.5 858.4,657.5 858.8,663.3 859.1,654.3 859.5,654.1 859.8,645.0 860.2,654.4 860.6,652.8 860.9,650.1 861.3,645.8 861.6,653.0 862.0,648.3 862.4,650.8 862.7,654.5 863.1,653.2 863.4,653.8 863.8,658.1 864.2,649.7 864.5,660.6 864.9,650.8 865.2,652.2 865.6,656.7 865.9,659.6 866.3,658.0 866.7,655.8 867.0,655.2 867.4,657.1 867.7,655.0 868.1,660.7 868.5,658.2 868.8,664.5 869.2,656.8 869.5,659.1 869.9,661.1 870.3,656.1 870.6,657.7 871.0,667.5 871.3,660.0 871.7,664.9 872.0,656.8 872.4,652.9 872.8,662.0 873.1,660.1 873.5,661.1 873.8,659.1 874.2,658.1 874.6,656.0 874.9,663.2 875.3,654.7 875.6,662.7 876.0,658.4 876.3,655.0 876.7,656.1 877.1,661.5 877.4,660.1 877.8,658.6 878.1,656.4 878.5,650.9 878.9,659.9 879.2,651.9 879.6,650.4 879.9,649.9 880.3,649.7 880.7,644.4 881.0,648.8 881.4,647.1 881.7,648.6 882.1,643.5 882.4,660.5 882.8,647.2 883.2,654.7 883.5,655.5 883.9,659.0 884.2,663.2 884.6,658.1 885.0,659.8 885.3,656.1 885.7,663.6 886.0,653.9 886.4,658.3 886.8,660.3 887.1,662.0 887.5,662.5 887.8,663.7 888.2,661.9 888.5,660.2 888.9,660.8 889.3,664.8 889.6,661.1 890.0,663.2 890.3,659.8 890.7,654.3 891.1,658.3 891.4,661.3 891.8,665.4 892.1,664.7 892.5,665.6 892.9,657.8 893.2,662.6 893.6,659.8 893.9,662.0 894.3,659.6 894.6,655.3 895.0,662.0 895.4,660.8 895.7,662.3 896.1,656.6 896.4,662.8 896.8,663.1 897.2,663.9 897.5,663.8 897.9,657.2 898.2,650.7 898.6,662.0 899.0,654.9 899.3,657.1 899.7,661.7 900.0,658.4 900.4,657.9 900.7,659.2 901.1,648.6 901.5,663.0 901.8,653.2 902.2,652.5 902.5,655.4 902.9,651.0 903.3,646.2 903.6,647.9 904.0,644.6 904.3,640.9 904.7,653.4 905.1,630.7 905.4,622.3 905.8,626.6 906.1,622.5 906.5,635.5 906.8,622.4 907.2,623.9 907.6,618.5 907.9,602.4 908.3,614.1 908.6,606.2 909.0,620.4 909.4,605.0 909.7,603.8 910.1,612.4 910.4,615.1 910.8,597.3 911.2,625.6 911.5,628.0 911.9,629.9 912.2,619.8 912.6,617.9 912.9,633.1 913.3,642.6 913.7,643.7 914.0,638.1 914.4,650.9 914.7,641.1 915.1,643.3 915.5,651.1 915.8,649.9 916.2,650.7 916.5,648.5 916.9,659.7 917.3,651.7 917.6,658.2 918.0,660.2 918.3,657.4 918.7,658.9 919.0,661.9 919.4,664.3 919.8,662.2 920.1,654.3 920.5,652.8 920.8,657.4 921.2,655.8 921.6,661.6 921.9,660.3 922.3,659.3 922.6,663.8 923.0,663.6 923.4,660.2 923.7,661.6 924.1,664.0 924.4,659.6 924.8,661.7 925.1,657.8 925.5,661.0 925.9,662.0 926.2,660.8 926.6,661.7 926.9,663.3 927.3,662.5 927.7,659.1 928.0,659.5 928.4,657.7 928.7,666.6 929.1,662.7 929.5,662.8 929.8,661.1 930.2,663.0 930.5,663.2 930.9,659.5 931.2,661.3 931.6,665.2 932.0,658.0 932.3,659.0 932.7,663.5 933.0,659.5 933.4,664.0 933.8,658.7 934.1,662.6 934.5,664.3 934.8,663.0 935.2,664.2 935.6,661.4 935.9,661.5 936.3,661.9 936.6,663.6 937.0,668.5 937.3,661.7 937.7,667.4 938.1,661.2 938.4,658.7 938.8,661.1 939.1,663.0 939.5,662.4 939.9,662.2 940.2,663.4 940.6,663.5 940.9,664.5 941.3,658.2 941.7,661.7 942.0,658.8 942.4,662.3 942.7,661.3 943.1,661.9 943.4,659.9 943.8,658.6 944.2,660.3 944.5,662.9 944.9,663.1 945.2,655.0 945.6,660.9 946.0,660.4 946.3,653.6 946.7,653.7 947.0,654.1 947.4,655.7 947.8,640.9 948.1,646.0 948.5,640.9 948.8,640.3 949.2,643.7 949.5,639.9 949.9,625.8 950.3,625.2 950.6,629.9 951.0,637.1 951.3,639.6 951.7,632.7 952.1,641.2 952.4,628.1 952.8,630.4 953.1,628.7 953.5,641.5 953.9,652.7 954.2,656.8 954.6,664.6 954.9,659.5 955.3,659.1 955.6,656.1 956.0,658.0 956.4,658.5 956.7,660.0 957.1,658.9 957.4,656.7 957.8,664.5 958.2,662.8 958.5,665.6 958.9,656.8 959.2,657.9 959.6,659.6 960.0,665.3 960.3,661.4 960.7,662.6 961.0,661.8 961.4,662.6 961.7,660.6 962.1,663.2 962.5,659.7 962.8,661.5 963.2,663.0 963.5,662.5 963.9,663.5 964.3,659.9 964.6,663.0 965.0,661.4 965.3,663.4 965.7,666.5 966.0,659.7 966.4,665.3 966.8,660.4 967.1,661.1 967.5,666.9 967.8,664.9 968.2,663.7 968.6,664.5 968.9,665.6 969.3,660.1 969.6,662.8 970.0,661.0 970.4,663.3 970.7,661.1 971.1,664.1 971.4,661.8 971.8,659.8 972.1,661.2 972.5,662.4 972.9,664.0 973.2,659.4 973.6,658.1 973.9,659.2 974.3,660.1 974.7,653.9 975.0,645.2 975.4,654.4 975.7,650.1 976.1,648.4 976.5,659.9 976.8,647.1 977.2,650.6 977.5,639.8 977.9,648.4 978.2,651.7 978.6,650.1 979.0,649.6 979.3,654.4 979.7,653.7 980.0,660.4 980.4,657.2 980.8,654.7 981.1,651.7 981.5,657.1 981.8,659.3 982.2,657.0 982.6,658.1 982.9,656.5 983.3,658.6 983.6,662.2 984.0,661.3 984.3,661.6 984.7,661.4 985.1,661.7 985.4,664.5 985.8,668.3 986.1,664.3 986.5,668.1 986.9,662.3 987.2,662.5 987.6,667.2 987.9,660.6 988.3,660.2 988.7,662.3 989.0,658.0 989.4,657.4 989.7,665.9 990.1,659.8 990.4,661.4 990.8,661.5 991.2,660.1 991.5,664.6 991.9,664.3 992.2,664.9 992.6,664.7 993.0,663.0 993.3,666.7 993.7,665.6 994.0,661.1 994.4,662.9 994.8,661.7 995.1,667.9 995.5,664.9 995.8,664.2 996.2,662.7 996.5,664.3 996.9,660.2 997.3,662.9 997.6,662.7 998.0,662.7 998.3,660.8 998.7,664.0 999.1,659.7 999.4,661.5 999.8,662.3 1000.1,662.6 1000.5,661.3 1000.9,660.0 1001.2,660.1 1001.6,661.6 1001.9,660.2 1002.3,662.2 1002.6,658.8 1003.0,662.0 1003.4,667.6 1003.7,656.3 1004.1,658.7 1004.4,661.0 1004.8,653.4"/>
<path d="M107.8 7.45 V670.9000000000001" stroke="#000" stroke-width="3.1" fill="none"/>
<path d="M1004.8 7.45 V670.9000000000001" stroke="#000" stroke-width="3.5" fill="none"/>
<path d="M106.25 8.75 H1006.55" stroke="#000" stroke-width="2.6" fill="none"/>
<path d="M106.25 669.2 H1006.55" stroke="#000" stroke-width="3.4" fill="none"/>
<path d="M167.6 668.2 v-11.8 M227.4 668.2 v-6.5 M287.2 668.2 v-11.8 M347.0 668.2 v-6.5 M406.8 668.2 v-11.8 M466.6 668.2 v-6.5 M526.4 668.2 v-11.8 M586.2 668.2 v-6.5 M646.0 668.2 v-11.8 M705.8 668.2 v-6.5 M765.6 668.2 v-11.8 M825.4 668.2 v-6.5 M885.2 668.2 v-11.8 M945.0 668.2 v-6.5 M108.8 595.8 h7.5 M108.8 522.4 h14.0 M108.8 449.0 h7.5 M108.8 375.6 h14.0 M108.8 302.1 h7.5 M108.8 228.7 h14.0 M108.8 155.3 h7.5 M108.8 81.9 h14.0" stroke="#000" stroke-width="2.6" fill="none"/>
<text class="tk" x="153.1" y="701" text-anchor="start" textLength="29.8" lengthAdjust="spacingAndGlyphs">10</text>
<text class="tk" x="272.7" y="701" text-anchor="start" textLength="29.8" lengthAdjust="spacingAndGlyphs">20</text>
<text class="tk" x="392.3" y="701" text-anchor="start" textLength="29.8" lengthAdjust="spacingAndGlyphs">30</text>
<text class="tk" x="511.9" y="701" text-anchor="start" textLength="29.8" lengthAdjust="spacingAndGlyphs">40</text>
<text class="tk" x="631.5" y="701" text-anchor="start" textLength="29.8" lengthAdjust="spacingAndGlyphs">50</text>
<text class="tk" x="751.1" y="701" text-anchor="start" textLength="29.8" lengthAdjust="spacingAndGlyphs">60</text>
<text class="tk" x="870.7" y="701" text-anchor="start" textLength="29.8" lengthAdjust="spacingAndGlyphs">70</text>
<text class="tk" x="990.1" y="701" text-anchor="start" textLength="29.8" lengthAdjust="spacingAndGlyphs">80</text>
<text class="tk" x="79" y="676.2" text-anchor="start" textLength="14.8" lengthAdjust="spacingAndGlyphs">0</text>
<text class="tk" x="49.8" y="529.4" text-anchor="start" textLength="44.0" lengthAdjust="spacingAndGlyphs">200</text>
<text class="tk" x="49.8" y="382.6" text-anchor="start" textLength="44.0" lengthAdjust="spacingAndGlyphs">400</text>
<text class="tk" x="49.8" y="235.7" text-anchor="start" textLength="44.0" lengthAdjust="spacingAndGlyphs">600</text>
<text class="tk" x="49.8" y="88.9" text-anchor="start" textLength="44.0" lengthAdjust="spacingAndGlyphs">800</text>
<text class="ti" x="446.8" y="746.6" text-anchor="start" textLength="219.3" lengthAdjust="spacingAndGlyphs">Two-theta(deg)</text>
<text class="ti" style="font-size:29.4px" transform="translate(28.3 473.6) rotate(-90)" x="0" y="0" textLength="240.5" lengthAdjust="spacingAndGlyphs">Intensity(Counts)</text>
<text class="lg" x="744.5" y="55.9" text-anchor="start" textLength="135.6" lengthAdjust="spacingAndGlyphs">H-Hematite</text>
<text class="lg" x="744.5" y="91.7" text-anchor="start" textLength="111" lengthAdjust="spacingAndGlyphs">Q-Quartz</text>
<text class="lg" x="744.5" y="127.5" text-anchor="start" textLength="119.4" lengthAdjust="spacingAndGlyphs">E-Chlorite</text>
<text class="lg" x="744.5" y="163.2" text-anchor="start" textLength="110.4" lengthAdjust="spacingAndGlyphs">Y-Apatite</text>
<text class="pk" transform="translate(185.44 569) scale(1.006 1)">E</text>
<text class="pk" transform="translate(281.80 585) scale(1.053 1)">Q</text>
<text class="pk" transform="translate(323.29 441) scale(1.085 1)">H</text>
<text class="pk" transform="translate(343.44 601.5) scale(1.006 1)">E</text>
<text class="pk" transform="translate(353.80 296) scale(1.053 1)">Q</text>
<text class="pk" transform="translate(402.55 539) scale(1.053 1)">Q</text>
<text class="pk" transform="translate(422.04 564) scale(0.981 1)">Y</text>
<text class="pk" transform="translate(433.69 58.7) scale(1.085 1)">H</text>
<text class="pk" transform="translate(458.54 146.5) scale(1.085 1)">H</text>
<text class="pk" transform="translate(504.65 614) scale(1.053 1)">Q</text>
<text class="pk" transform="translate(524.54 487.5) scale(1.085 1)">H</text>
<text class="pk" transform="translate(628.04 442) scale(1.085 1)">H</text>
<text class="pk" transform="translate(640.80 589) scale(1.053 1)">Q</text>
<text class="pk" transform="translate(683.14 420) scale(1.085 1)">H</text>
<text class="pk" transform="translate(723.54 594) scale(1.085 1)">H</text>
<text class="pk" transform="translate(752.80 620) scale(1.053 1)">Q</text>
<text class="pk" transform="translate(784.29 467) scale(1.085 1)">H</text>
<text class="pk" transform="translate(803.44 497) scale(1.085 1)">H</text>
<text class="pk" transform="translate(893.54 591.5) scale(1.085 1)">H</text>
<text class="pk" transform="translate(937.04 619) scale(1.085 1)">H</text>
</svg>
</body></html>
